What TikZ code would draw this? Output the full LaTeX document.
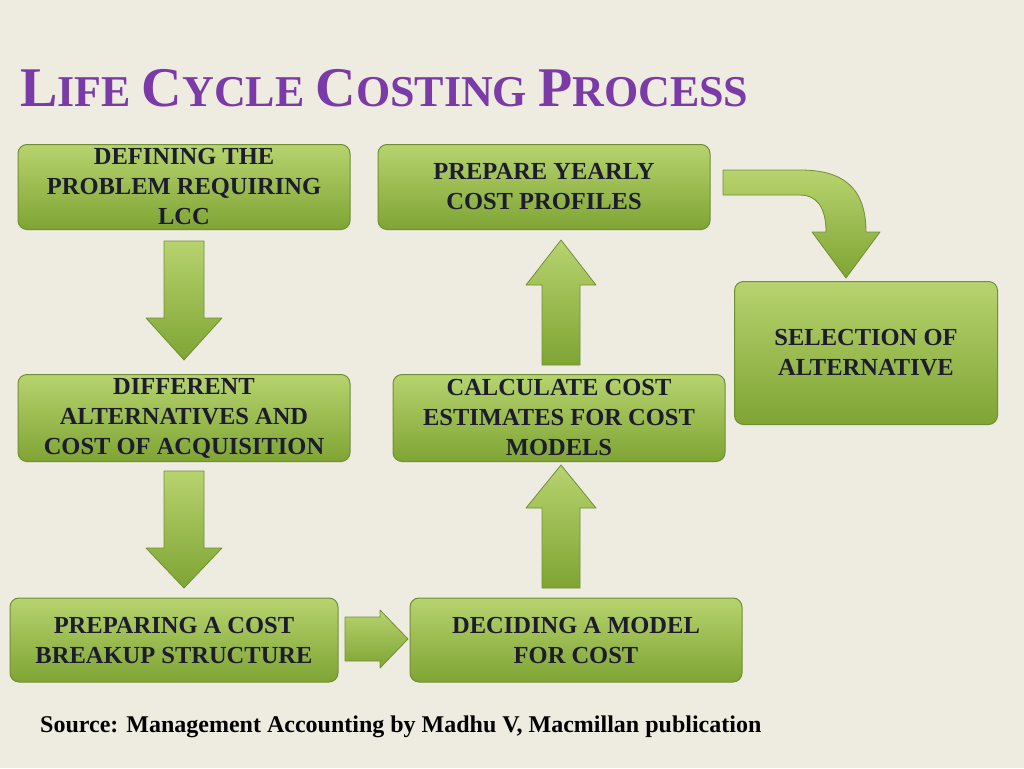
\documentclass[tikz,border=0pt]{standalone}
\usepackage{fontspec}
\setmainfont{Liberation Serif}
\definecolor{bg}{HTML}{EEECE1}
\definecolor{gtop}{HTML}{B7D36E}
\definecolor{gbot}{HTML}{7FA434}
\definecolor{gedge}{HTML}{6F8F35}
\definecolor{ttl}{HTML}{7A3AA8}
\definecolor{txt}{HTML}{1C1C2E}
\tikzset{
  gbox/.style={draw=gedge, line width=1pt, rounded corners=9pt, top color=gtop, bottom color=gbot, align=center, font=\bfseries\fontsize{24.5}{30}\selectfont, text=txt, inner sep=0pt},
  garrow/.style={draw=gedge, line width=0.8pt, top color=gtop, bottom color=gbot, line join=round}
}
\begin{document}
\begin{tikzpicture}[x=1pt,y=-1pt]
\fill[bg] (0,0) rectangle (1024,768);
\useasboundingbox (0,0) rectangle (1024,768);
% title
\node[anchor=west, text=ttl, font=\bfseries, inner sep=0pt] (title) at (20,88)
 {\fontsize{56}{56}\selectfont L\fontsize{44}{44}\selectfont IFE \fontsize{56}{56}\selectfont C\fontsize{44}{44}\selectfont YCLE \fontsize{56}{56}\selectfont C\fontsize{44}{44}\selectfont OSTING \fontsize{56}{56}\selectfont P\fontsize{44}{44}\selectfont ROCESS};
% boxes
\node[gbox, minimum width=332, minimum height=85] (b1) at (184,187) {DEFINING THE\\PROBLEM REQUIRING\\LCC};
\node[gbox, minimum width=332, minimum height=85] (b2) at (544,187) {PREPARE YEARLY\\COST PROFILES};
\node[gbox, minimum width=263, minimum height=143] (b3) at (866,353) {SELECTION OF\\ALTERNATIVE};
\node[gbox, minimum width=332, minimum height=87] (b4) at (184,418) {DIFFERENT\\ALTERNATIVES AND\\COST OF ACQUISITION};
\node[gbox, minimum width=332, minimum height=87] (b5) at (559,418) {CALCULATE COST\\ESTIMATES FOR COST\\MODELS};
\node[gbox, minimum width=328, minimum height=84] (b6) at (174,640) {PREPARING A COST\\BREAKUP STRUCTURE};
\node[gbox, minimum width=332, minimum height=84] (b7) at (576,640) {DECIDING A MODEL\\FOR COST};
% down arrows
\draw[garrow] (164,241) -- (204,241) -- (204,318) -- (222,318) -- (184,360) -- (146,318) -- (164,318) -- cycle;
\draw[garrow] (164,471) -- (204,471) -- (204,548) -- (222,548) -- (184,588) -- (146,548) -- (164,548) -- cycle;
% up arrows
\draw[garrow] (542,365) -- (580,365) -- (580,285) -- (596,285) -- (561,240) -- (526,285) -- (542,285) -- cycle;
\draw[garrow] (542,588) -- (580,588) -- (580,508) -- (596,508) -- (561,465) -- (526,508) -- (542,508) -- cycle;
% right arrow
\draw[garrow] (345,617) -- (380,617) -- (380,610) -- (408,639) -- (380,668) -- (380,661) -- (345,661) -- cycle;
% bent arrow
\draw[garrow] (723,170) -- (800,170) .. controls (840,170) and (866,185) .. (866,232) -- (880,232) -- (846,278) -- (812,232) -- (826,232) .. controls (826,205) and (815,195) .. (800,195) -- (723,195) -- cycle;
% source
\node[anchor=west, font=\bfseries\fontsize{24}{26}\selectfont, inner sep=0pt] (src) at (40,727) {Source: Management Accounting by Madhu V, Macmillan publication};
\end{tikzpicture}
\end{document}
